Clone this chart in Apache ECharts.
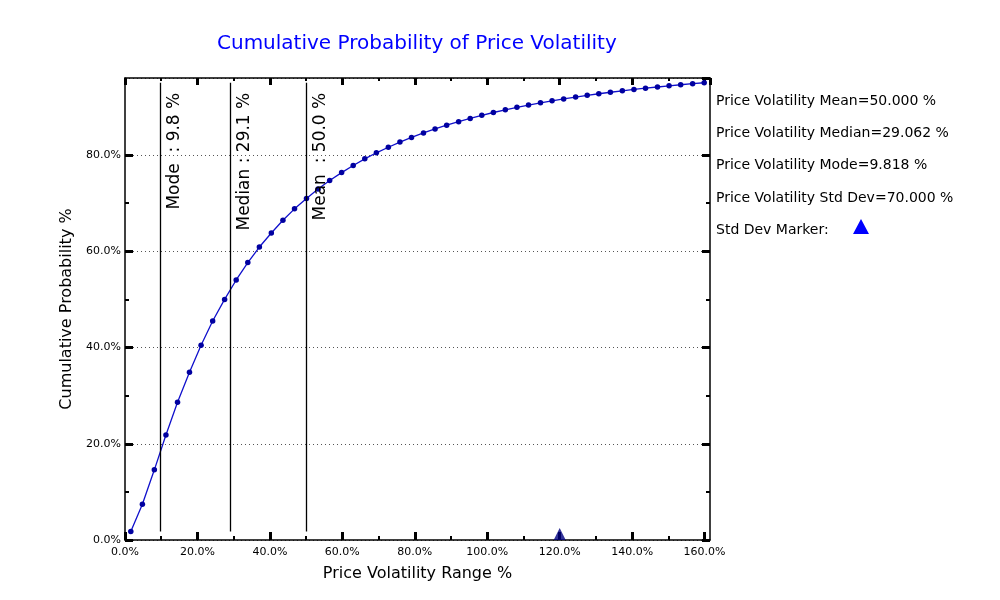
<!DOCTYPE html>
<html>
<head>
<meta charset="utf-8">
<script src="https://cdn.jsdelivr.net/npm/echarts@6/dist/echarts.min.js"></script>
<style>
  html, body { margin: 0; padding: 0; background: #fff; }
  #main { width: 1000px; height: 600px; }
</style>
</head>
<body>
<div id="main"></div>
<script>
var myChart = echarts.init(document.getElementById('main'));

// bin centres of the volatility range (%)
var xValues = [1.6, 4.8, 8.1, 11.3, 14.5, 17.8, 21.0, 24.2, 27.5, 30.7,
  33.9, 37.1, 40.4, 43.6, 46.8, 50.1, 53.3, 56.5, 59.8, 63.0,
  66.2, 69.4, 72.7, 75.9, 79.1, 82.4, 85.6, 88.8, 92.1, 95.3,
  98.5, 101.7, 105.0, 108.2, 111.4, 114.7, 117.9, 121.1, 124.4, 127.6,
  130.8, 134.0, 137.3, 140.5, 143.7, 147.0, 150.2, 153.4, 156.7, 159.9];
// cumulative probability (%)
var cumProb = [1.75, 7.44, 14.58, 21.81, 28.63, 34.86, 40.47, 45.50, 50.00, 54.03,
  57.64, 60.88, 63.80, 66.43, 68.81, 70.96, 72.92, 74.71, 76.34, 77.83,
  79.20, 80.46, 81.61, 82.68, 83.66, 84.58, 85.42, 86.20, 86.93, 87.61,
  88.24, 88.83, 89.39, 89.90, 90.38, 90.84, 91.26, 91.66, 92.04, 92.39,
  92.73, 93.04, 93.34, 93.62, 93.88, 94.13, 94.37, 94.60, 94.81, 95.01];

var statValues = [9.818, 29.062, 50.0];
var statLabels = ['Mode  : 9.8 %', 'Median : 29.1 %', 'Mean  : 50.0 %'];
var stdDevMarkerX = 120;

var infoLines = [
  'Price Volatility Mean=50.000 %',
  'Price Volatility Median=29.062 %',
  'Price Volatility Mode=9.818 %',
  'Price Volatility Std Dev=70.000 %',
  'Std Dev Marker:'
];

var xMax = 161.5;
var yMax = 96;
var xMinorTicks = [10, 30, 50, 70, 90, 110, 130, 150];
var yMinorTicks = [10, 30, 50, 70];

var fontName = 'DejaVu Sans';

var pct = function (v) {
  return v.toFixed(1) + '%';
};

var seriesData = xValues.map(function (x, i) {
  return [x, cumProb[i]];
});

var yLow = cumProb[0];
var yHigh = cumProb[cumProb.length - 1];
var statLines = statValues.map(function (v, i) {
  return [
    { coord: [v, yLow] },
    { coord: [v, yHigh], label: { formatter: statLabels[i] } }
  ];
});

function majorAxis(pos, dim, tickLen, withLabel) {
  var isX = dim === 'x';
  var ax = {
    type: 'value',
    position: pos,
    min: 0,
    max: isX ? xMax : yMax,
    interval: 20,
    axisLine: { show: true, onZero: false, lineStyle: { color: '#000', width: 1.5 } },
    axisTick: { show: true, inside: true, length: tickLen, lineStyle: { color: '#000', width: 3 } },
    axisLabel: { show: false },
    splitLine: { show: false }
  };
  if (withLabel) {
    ax.axisLabel = {
      show: true,
      showMaxLabel: false,
      margin: isX ? 7 : 4,
      color: '#000',
      fontSize: 11,
      fontFamily: fontName,
      formatter: function (v) {
        return v % 20 === 0 ? pct(v) : '';
      }
    };
  }
  return ax;
}

function minorAxis(pos, dim, tickLen, values) {
  var isX = dim === 'x';
  return {
    type: 'value',
    position: pos,
    min: 0,
    max: isX ? xMax : yMax,
    interval: 10,
    axisLine: { show: false, onZero: false },
    axisTick: { show: true, inside: true, length: tickLen, customValues: values, lineStyle: { color: '#000', width: 2 } },
    axisLabel: { show: false },
    splitLine: { show: false }
  };
}

var xBottom = majorAxis('bottom', 'x', 8, true);
xBottom.name = 'Price Volatility Range %';
xBottom.nameLocation = 'middle';
xBottom.nameGap = 26;
xBottom.nameTextStyle = { color: '#000', fontSize: 16, fontFamily: fontName };

var yLeft = majorAxis('left', 'y', 8, true);
yLeft.name = 'Cumulative Probability %';
yLeft.nameLocation = 'middle';
yLeft.nameGap = 40;
yLeft.nameTextStyle = { color: '#000', fontSize: 16, fontFamily: fontName };
yLeft.splitLine = { show: true, lineStyle: { color: '#555', type: [1, 3], width: 1 } };

var graphics = infoLines.map(function (t, i) {
  return {
    type: 'text',
    left: 716,
    top: [100, 132, 164, 197, 229][i] - 6,
    style: { text: t, fill: '#000', font: '14px "DejaVu Sans"' }
  };
});
graphics.push({
  type: 'polygon',
  shape: { points: [[861, 219], [853, 234], [869, 234]] },
  style: { fill: '#0000ff' }
});

option = {
  animation: false,
  backgroundColor: '#fff',
  textStyle: { fontFamily: fontName },
  title: {
    text: 'Cumulative Probability of Price Volatility',
    left: 212,
    top: 29,
    textStyle: { color: '#0000ff', fontSize: 20, fontWeight: 'normal', fontFamily: fontName }
  },
  grid: { left: 125, right: 290, top: 78, bottom: 60 },
  xAxis: [
    xBottom,
    minorAxis('bottom', 'x', 4, xMinorTicks),
    majorAxis('top', 'x', 7, false),
    minorAxis('top', 'x', 3, xMinorTicks)
  ],
  yAxis: [
    yLeft,
    minorAxis('left', 'y', 4, yMinorTicks),
    majorAxis('right', 'y', 8, false),
    minorAxis('right', 'y', 4, yMinorTicks)
  ],
  graphic: graphics,
  series: [
    {
      name: 'Cumulative Probability',
      type: 'line',
      data: seriesData,
      symbol: 'circle',
      symbolSize: 5.5,
      lineStyle: { color: '#1010cc', width: 1.3 },
      itemStyle: { color: '#0000a0' },
      markLine: {
        silent: true,
        symbol: ['none', 'none'],
        lineStyle: { color: '#000', type: 'solid', width: 1.3 },
        label: {
          show: true,
          position: 'insideEndBottom',
          distance: [10, 6],
          color: '#000',
          fontSize: 17,
          fontFamily: fontName
        },
        data: statLines
      }
    },
    {
      name: 'Std Dev Marker',
      type: 'scatter',
      data: [[stdDevMarkerX, 0]],
      symbol: 'triangle',
      symbolSize: [12, 12],
      symbolOffset: [0, -6],
      clip: false,
      itemStyle: { color: '#000080' }
    }
  ]
};

myChart.setOption(option);
</script>
</body>
</html>
